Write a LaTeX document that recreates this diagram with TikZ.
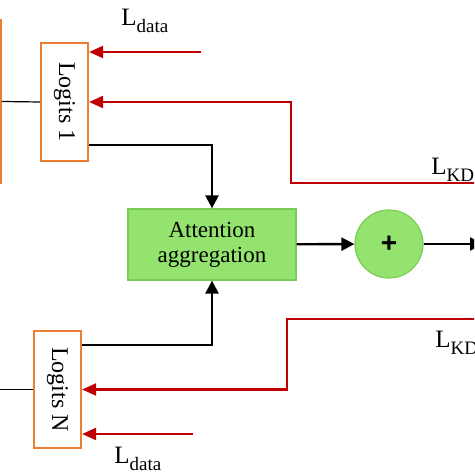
\documentclass[tikz,border=0pt]{standalone}
\usepackage{fontspec}
\setmainfont{Liberation Serif}
\newfontfamily\plusfont{Liberation Sans}
\usepackage{graphicx}
\usepackage{xcolor}
\usetikzlibrary{positioning, arrows.meta}
\definecolor{logitorange}{HTML}{ED7D31}
\definecolor{lossred}{HTML}{C00000}
\definecolor{aggfill}{HTML}{94E36E}
\definecolor{aggdraw}{HTML}{7ACC55}
\newcommand{\lossname}[1]{L\raisebox{-3.5pt}{\fontsize{9.5}{9.5}\selectfont #1}}

\begin{document}
\begin{tikzpicture}[x=0.5pt, y=-0.5pt,
        logit/.style={draw=logitorange, line width=1.1pt, fill=white, minimum width=23.5pt,
            minimum height=59pt, inner sep=0pt, font=\fontsize{12}{14}\selectfont},
        agg/.style={draw=aggdraw, fill=aggfill, line width=0.6pt, inner sep=0pt},
        flow/.style={line width=1.2pt, -{Triangle[length=6.5pt, width=6.5pt]}},
        loss/.style={draw=lossred, line width=1.1pt, -{Triangle[length=7pt, width=6pt]}},
        losstext/.style={anchor=base west, inner sep=0pt, font=\fontsize{12.5}{14}\selectfont}]
        \clip (0,0) rectangle (474,474);

        % teacher side
        \node[draw=logitorange, line width=0.9pt, minimum width=31pt, minimum height=81.5pt] (model1) at (-30,101.5) {};
        \coordinate (inN) at (-10,389.5);

        \node[logit] (logits1) at (64.5,102) {\rotatebox{-90}{Logits 1}};
        \node[logit, minimum height=58.5pt] (logitsN) at (57.5,389.5) {\rotatebox{-90}{Logits N}};

        \node[agg, minimum width=84pt, minimum height=35.5pt, align=center,
            font=\fontsize{11.5}{12.5}\selectfont] (att) at (212,244.5) {Attention\\aggregation};
        \node[agg, circle, minimum size=34pt, font=\plusfont\bfseries\fontsize{14}{14}\selectfont] (sum) at (389,244) {+};
        \coordinate (out) at (483,244);

        % losses
        \coordinate (data1) at (201,52);
        \coordinate (dataN) at (193,434);
        \coordinate (kd1) at (480,183);
        \coordinate (kd1bend) at (291,183);
        \coordinate (kdN) at (480,319);
        \coordinate (kdNbend) at (287,319);

        \node[losstext] at (121,26) {\lossname{data}};
        \node[losstext] at (114,463) {\lossname{data}};
        \node[losstext] at (431,175) {\lossname{KD}};
        \node[losstext] at (435,347) {\lossname{KD}};

        \draw[line width=0.6pt] (model1.east) -- (logits1.west);
        \draw[line width=0.6pt] (inN) -- (logitsN.west);

        \draw[flow] ([yshift=8.5pt]logits1.south east) -| (att.north);
        \draw[flow] ([yshift=-7.5pt]logitsN.north east) -| (att.south);
        \draw[flow] (att) -- (sum);
        \draw[flow] (sum) -- (out);

        \draw[loss] (data1) -- (data1 -| logits1.east);
        \draw[loss] (kd1) -- (kd1bend) |- (logits1.east);
        \draw[loss] (kdN) -- (kdNbend) |- (logitsN.east);
        \draw[loss] (dataN) -- (dataN -| logitsN.east);
\end{tikzpicture}
\end{document}
